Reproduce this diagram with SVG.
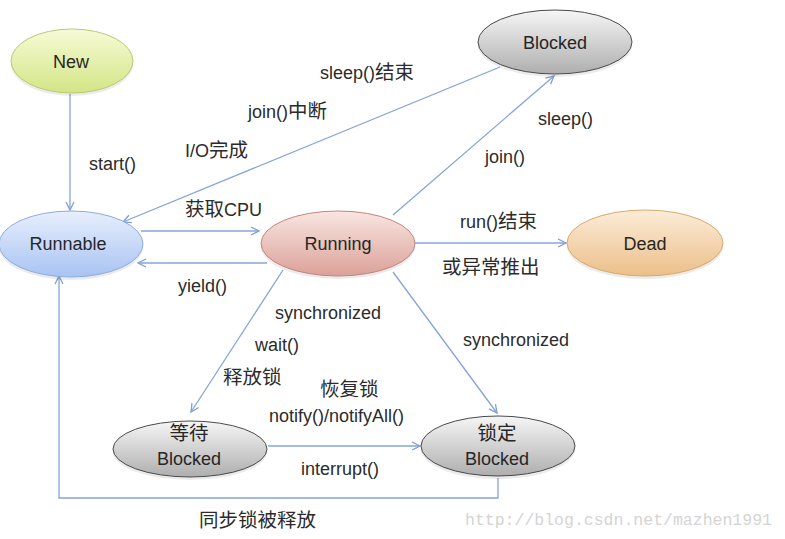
<svg xmlns="http://www.w3.org/2000/svg" width="785" height="539" viewBox="0 0 785 539">
<defs>
<linearGradient id="gNew" x1="0" y1="0" x2="0" y2="1"><stop offset="0" stop-color="#f7fbd6"/><stop offset="1" stop-color="#d3e585"/></linearGradient>
<linearGradient id="gRunnable" x1="0" y1="0" x2="0" y2="1"><stop offset="0" stop-color="#e8effd"/><stop offset="1" stop-color="#a8c3f3"/></linearGradient>
<linearGradient id="gRunning" x1="0" y1="0" x2="0" y2="1"><stop offset="0" stop-color="#f9e6e2"/><stop offset="1" stop-color="#dba199"/></linearGradient>
<linearGradient id="gDead" x1="0" y1="0" x2="0" y2="1"><stop offset="0" stop-color="#fcecd9"/><stop offset="1" stop-color="#ebbf88"/></linearGradient>
<linearGradient id="gGray" x1="0" y1="0" x2="0" y2="1"><stop offset="0" stop-color="#f6f6f6"/><stop offset="1" stop-color="#aeaeae"/></linearGradient>
<marker id="arr" viewBox="0 0 10 10" refX="9" refY="5" markerWidth="10" markerHeight="10" markerUnits="userSpaceOnUse" orient="auto">
<path d="M1,1 L9,5 L1,9" fill="none" stroke="#7f9fd6" stroke-width="1.3"/>
</marker>
</defs>
<style>
.t{font-family:"Liberation Sans","Noto Sans CJK SC",sans-serif;font-size:18px;fill:#2b2b2b;}
.k{font-size:19.5px;}
.n{font-family:"Liberation Sans","Noto Sans CJK SC",sans-serif;font-size:18px;fill:#262626;text-anchor:middle;}
.nk{font-size:19.5px;}
.c{fill:none;stroke:#86a4d8;stroke-width:1.3;}
.ca{fill:none;stroke:#86a4d8;stroke-width:1.3;marker-end:url(#arr);}
.sh{fill:#000;opacity:0.08;}
.wm{font-family:"Liberation Mono","DejaVu Sans Mono",monospace;font-size:16.5px;fill:#d4d4d4;}
</style>
<rect width="785" height="539" fill="#ffffff"/>

<g id="connectors">
<path class="ca" d="M70,94 L70,210"/>
<path class="ca" d="M500,67 L123,222"/>
<path class="ca" d="M393,215 L554,76"/>
<path class="ca" d="M141,231 L259,231"/>
<path class="ca" d="M267,263 L138,263"/>
<path class="ca" d="M415,243 L566,243"/>
<path class="ca" d="M283,270 L191,412"/>
<path class="ca" d="M393,272 L497,413"/>
<path class="ca" d="M268,446 L420,446"/>
<path class="ca" d="M498,478 L498,498 L59,498 L59,276"/>
</g>

<g id="labels">
<text class="t" x="89" y="170">start()</text>
<text class="t" x="320" y="79">sleep()<tspan class="k">结束</tspan></text>
<text class="t" x="248" y="118">join()<tspan class="k">中断</tspan></text>
<text class="t" x="185" y="157">I/O<tspan class="k">完成</tspan></text>
<text class="t" x="185" y="216"><tspan class="k">获取</tspan>CPU</text>
<text class="t" x="178" y="292">yield()</text>
<text class="t" x="538" y="125">sleep()</text>
<text class="t" x="485" y="163">join()</text>
<text class="t" x="460" y="228">run()<tspan class="k">结束</tspan></text>
<text class="t k" x="442" y="274">或异常推出</text>
<text class="t" x="275" y="319">synchronized</text>
<text class="t" x="255" y="351">wait()</text>
<text class="t k" x="223" y="384">释放锁</text>
<text class="t k" x="320" y="396">恢复锁</text>
<text class="t" x="269" y="422">notify()/notifyAll()</text>
<text class="t" x="301" y="475">interrupt()</text>
<text class="t" x="463" y="346">synchronized</text>
<text class="t k" x="199" y="527">同步锁被释放</text>
<text class="wm" x="465" y="525">http://blog.csdn.net/mazhen1991</text>
</g>

<g id="node-new">
<ellipse class="sh" cx="72" cy="64" rx="61" ry="32"/>
<ellipse cx="72" cy="61" rx="61" ry="32" fill="url(#gNew)" stroke="#b9c978" stroke-width="1"/>
<text class="n" x="71" y="68">New</text>
</g>

<g id="node-runnable">
<ellipse class="sh" cx="71" cy="247" rx="72" ry="33"/>
<ellipse cx="71" cy="244" rx="72" ry="33" fill="url(#gRunnable)" stroke="#8eabe0" stroke-width="1"/>
<text class="n" x="68" y="250">Runnable</text>
</g>

<g id="node-running">
<ellipse class="sh" cx="338" cy="246.5" rx="77" ry="32.5"/>
<ellipse cx="338" cy="243.5" rx="77" ry="32.5" fill="url(#gRunning)" stroke="#c4857e" stroke-width="1"/>
<text class="n" x="338" y="250">Running</text>
</g>

<g id="node-blocked">
<ellipse class="sh" cx="555" cy="45" rx="77" ry="32"/>
<ellipse cx="555" cy="42" rx="77" ry="32" fill="url(#gGray)" stroke="#4a4a4a" stroke-width="1"/>
<text class="n" x="555" y="49">Blocked</text>
</g>

<g id="node-dead">
<ellipse class="sh" cx="645" cy="246" rx="78" ry="33"/>
<ellipse cx="645" cy="243" rx="78" ry="33" fill="url(#gDead)" stroke="#d7aa6c" stroke-width="1"/>
<text class="n" x="645" y="250">Dead</text>
</g>

<g id="node-wait">
<ellipse class="sh" cx="190" cy="452" rx="77" ry="28"/>
<ellipse cx="190" cy="449" rx="77" ry="28" fill="url(#gGray)" stroke="#4a4a4a" stroke-width="1"/>
<text class="n nk" x="189" y="440">等待</text>
<text class="n" x="189" y="465">Blocked</text>
</g>

<g id="node-lock">
<ellipse class="sh" cx="498" cy="449" rx="77" ry="30"/>
<ellipse cx="498" cy="446" rx="77" ry="30" fill="url(#gGray)" stroke="#4a4a4a" stroke-width="1"/>
<text class="n nk" x="497" y="440">锁定</text>
<text class="n" x="497" y="465">Blocked</text>
</g>
</svg>
